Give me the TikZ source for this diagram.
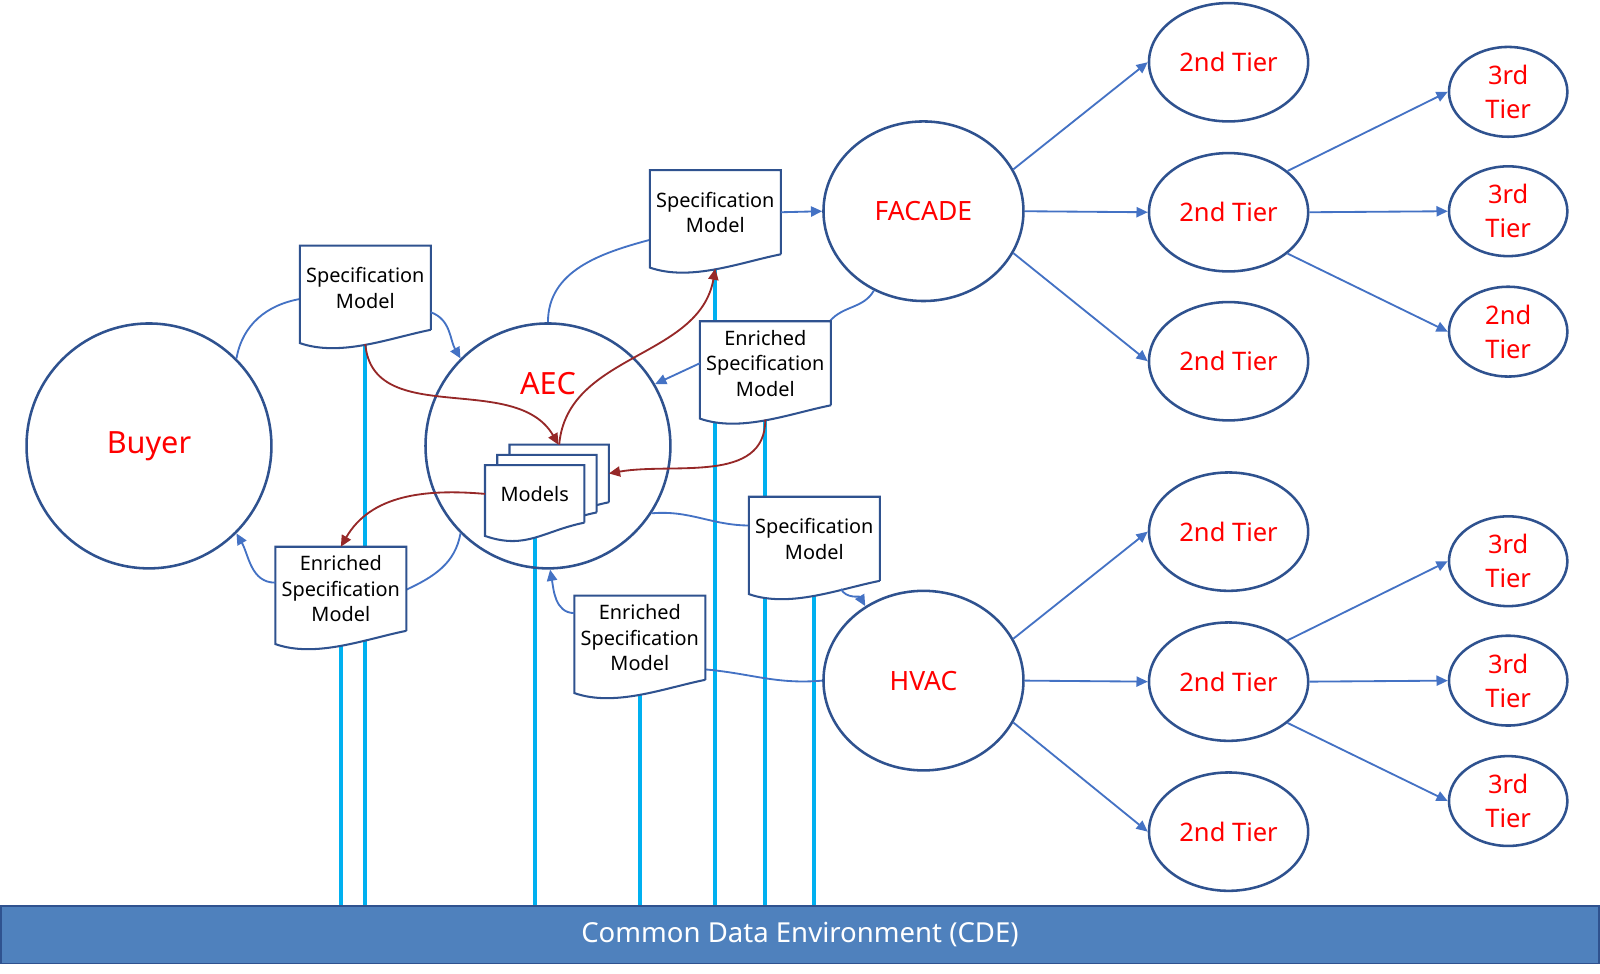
\documentclass[tikz,border=0pt]{standalone}
\usepackage{fontspec}
\setmainfont{Noto Sans}
\usetikzlibrary{shapes.geometric,arrows.meta,calc,positioning,backgrounds}
\definecolor{rim}{RGB}{47,82,143}
\definecolor{flow}{RGB}{68,114,196}
\definecolor{feed}{RGB}{150,40,40}
\definecolor{cde}{RGB}{0,176,240}
\definecolor{bar}{RGB}{79,129,189}
\tikzset{
  party/.style={ellipse,draw=rim,line width=2.5pt,text=red,font=\fontsize{30}{34}\selectfont},
  tier/.style={ellipse,draw=rim,line width=2.5pt,text=red,minimum width=156,minimum height=116,font=\fontsize{25}{28}\selectfont},
  tiny/.style={tier,minimum width=116,minimum height=88,align=center,font=\fontsize{25}{33}\selectfont},
  doc/.style={inner sep=0pt,align=center,font=\fontsize{19.5}{25}\selectfont},
  docline/.style={draw=rim,fill=white,line width=2pt},
  flowarr/.style={flow,line width=1.8pt,-{Triangle[length=11pt,width=10pt]}},
  flowline/.style={flow,line width=1.8pt},
  feedarr/.style={feed,line width=1.8pt,-{Triangle[length=11pt,width=10pt]}},
  store/.style={cde,line width=4pt}
}
% document with a wavy lower edge
\newcommand{\docnode}[5]{
  \node[doc,minimum width=#4,minimum height=#5] (#1-box) at (#2) {};
  \filldraw[docline] (#1-box.south east) -- (#1-box.north east) -- (#1-box.north west)
    -- ($(#1-box.south west)+(0,13)$)
    .. controls +(40,14) and +(-40,8) .. (#1-box.south east);
  \node[doc] (#1) at (#2) {#3};
  \coordinate (#1-b) at ($(#1-box.south)+(0,14)$);
}
\begin{document}
\begin{tikzpicture}[x=1pt,y=-1pt]
\useasboundingbox (0,0) rectangle (1568,954);
% common data environment
\node[draw=rim,fill=bar,line width=1.5pt,minimum width=1566,minimum height=56,
  text=white,font=\fontsize{27}{30}\selectfont] (cde) at (784,916) {Common Data Environment (CDE)};
% parties
\node[party,circle,minimum size=240] (buyer) at (146,437) {Buyer};
\node[party,circle,minimum size=240] (aec) at (537,437) {};
\node[text=red,font=\fontsize{30}{34}\selectfont] (aeclbl) at (537,376) {AEC};
\node[party,minimum width=196,minimum height=176,font=\fontsize{26}{30}\selectfont] (facade) at (905,207) {FACADE};
\node[party,minimum width=196,minimum height=176,font=\fontsize{26}{30}\selectfont] (hvac) at (905,667) {HVAC};
% tiers
\node[tier] (fa) at (1204,61) {2nd Tier};
\node[tier] (fb) at (1204,208) {2nd Tier};
\node[tier] (fc) at (1204,354) {2nd Tier};
\node[tier] (ha) at (1204,521) {2nd Tier};
\node[tier] (hb) at (1204,668) {2nd Tier};
\node[tier] (hc) at (1204,815) {2nd Tier};
\node[tiny] (fba) at (1478,90) {3rd\\Tier};
\node[tiny] (fbb) at (1478,207) {3rd\\Tier};
\node[tiny] (fbc) at (1478,325) {2nd\\Tier};
\node[tiny] (hba) at (1478,550) {3rd\\Tier};
\node[tiny] (hbb) at (1478,667) {3rd\\Tier};
\node[tiny] (hbc) at (1478,785) {3rd\\Tier};
\draw[flowarr] (facade.25) -- (fa.west);
\draw[flowarr] (facade.east) -- (fb.west);
\draw[flowarr] (facade.-25) -- (fc.west);
\draw[flowarr] (fb.35) -- (fba.west);
\draw[flowarr] (fb.east) -- (fbb.west);
\draw[flowarr] (fb.-35) -- (fbc.west);
\draw[flowarr] (hvac.25) -- (ha.west);
\draw[flowarr] (hvac.east) -- (hb.west);
\draw[flowarr] (hvac.-25) -- (hc.west);
\draw[flowarr] (hb.35) -- (hba.west);
\draw[flowarr] (hb.east) -- (hbb.west);
\draw[flowarr] (hb.-35) -- (hbc.west);
% exchanges
\draw[flowline] (buyer.45) to[out=80,in=190] (294,293);
\draw[flowline] (aec.90) to[out=90,in=195] (637,235);
\draw[flowline] (facade.238) to[out=240,in=50] (813,315);
\draw[flowline] (aec.-33) to[out=5,in=180] (735,515);
\draw[flowline] (hvac.west) to[out=185,in=-5] (691,656);
\draw[flowline] (aec.225) to[out=-100,in=25] (398,578);
\docnode{spec1}{358,282}{Specification\\Model}{128}{82}
\docnode{spec2}{701,208}{Specification\\Model}{128}{82}
\docnode{enr1}{750,356}{Enriched\\Specification\\Model}{128}{82}
\docnode{spec3}{798,528}{Specification\\Model}{128}{82}
\docnode{enr2}{627,625}{Enriched\\Specification\\Model}{128}{82}
\docnode{enrl}{334,577}{Enriched\\Specification\\Model}{128}{82}
\docnode{models3}{548,464}{}{97}{56}
\docnode{models2}{536,474}{}{97}{56}
\docnode{models}{524,484}{Models}{97}{56}
\draw[flowarr] ($(spec1-box.east)+(0,24)$) to[out=-20,in=120] (aec.135);
\draw[flowarr] (spec2-box.east) -- (facade.west);
\draw[flowarr] (enr1-box.west) -- (aec.30);
\draw[flowarr] ($(spec3-b)+(26,-6)$) to[out=-60,in=120] (hvac.128);
\draw[flowarr] ($(enr2-box.north west)+(0,17)$) to[out=180,in=-80] (aec.-89);
\draw[flowarr] ($(enrl-box.west)+(0,-6)$) to[out=180,in=-60] (buyer.-45);
% model feeds
\draw[feedarr] (spec1-b) to[out=-85,in=120] (models3.south west|-models3-box.north);
\draw[feedarr] (models3-box.north) to[out=85,in=-100] (spec2-b);
\draw[feedarr] (enr1-b) to[out=-90,in=10] (models3-box.east);
\draw[feedarr] (models-box.west) to[out=175,in=60] (enrl-box.north);
% links to the CDE
\begin{scope}[on background layer]
\foreach \d in {spec1,enrl,models,enr2,spec2,enr1,spec3}
  \draw[store] (\d-b) -- (\d-b |- cde.north);
\end{scope}
\end{tikzpicture}
\end{document}
